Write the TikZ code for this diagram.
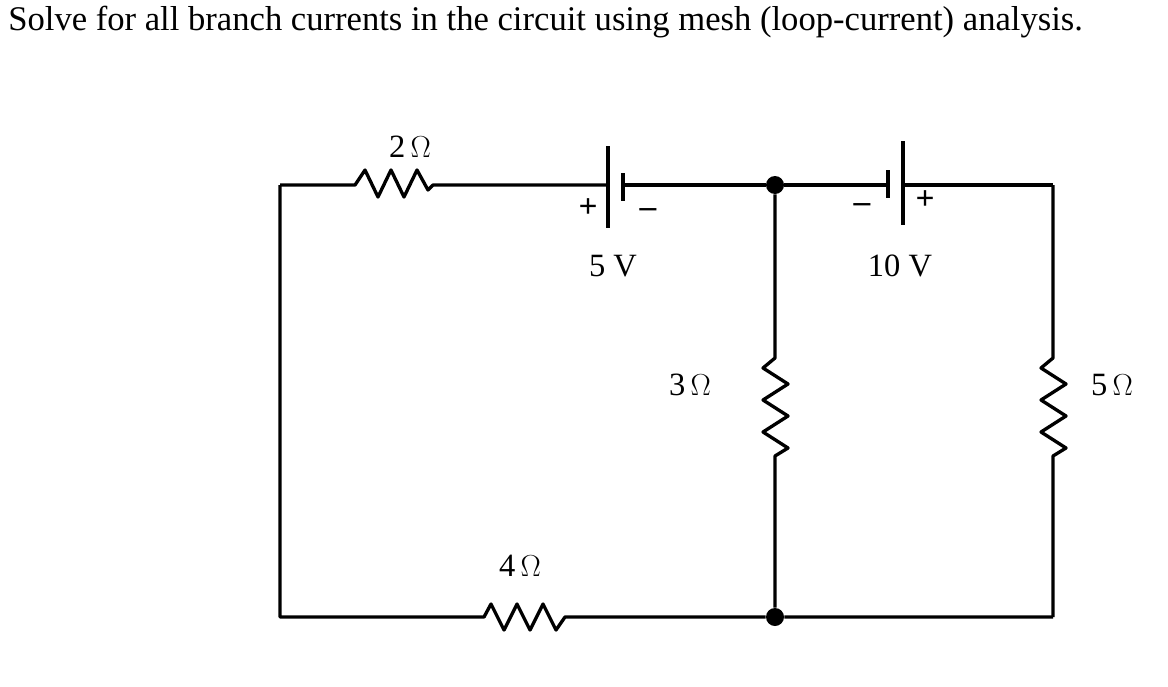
\documentclass[tikz,border=0pt]{standalone}
\usepackage{fontspec}
\setmainfont{Liberation Serif}
\usetikzlibrary{positioning, calc}

\begin{document}
\begin{tikzpicture}[
        x=0.02cm, y=-0.02cm,
        wire/.style={line width=1.9pt, line join=round},
        plate/.style={line width=2.2pt},
        lbl/.style={font=\fontsize{18.5}{20}\selectfont, inner sep=0pt},
        sgn/.style={font=\bfseries\fontsize{19}{19}\selectfont, inner sep=0pt},
        junction/.style={circle, fill=black, inner sep=0pt, minimum size=0.36cm}
    ]
        \useasboundingbox (0,0) rectangle (1168,686);
        % title
        \node[anchor=west, inner sep=0pt, font=\fontsize{19.7}{22}\selectfont] (title) at (8,22)
            {Solve for all branch currents in the circuit using mesh (loop-current) analysis.};

        % corners and junctions
        \coordinate (tl) at (280,185);
        \coordinate (tr) at (1053,185);
        \coordinate (bl) at (280,617);
        \coordinate (br) at (1053,617);
        \node[junction] (top) at (775,185) {};
        \node[junction] (bot) at (775,617) {};

        % top wire: 2 ohm and 5 V
        \draw[wire] (tl) -- (355,185) -- (365,170) -- (378,197) -- (391,170) -- (404,197)
            -- (417,170) -- (428,190) -- (433,185) -- (608,185);
        \draw[plate] (608,146) -- (608,228);
        \draw[plate] (623,173) -- (623,201);
        \draw[wire] (623,185) -- (top);
        % top wire: 10 V
        \draw[wire] (top) -- (888,185);
        \draw[plate] (888,170) -- (888,198);
        \draw[plate] (903,141) -- (903,225);
        \draw[wire] (903,185) -- (tr);

        % right branch: 5 ohm
        \draw[wire] (tr) -- (1053,358) -- (1041,368) -- (1066,384) -- (1041,400) -- (1066,416)
            -- (1041,432) -- (1066,448) -- (1053,456) -- (br);
        % middle branch: 3 ohm
        \draw[wire] (top) -- (775,358) -- (763,368) -- (788,384) -- (763,400) -- (788,416)
            -- (763,432) -- (788,448) -- (775,456) -- (bot);
        % bottom wire: 4 ohm
        \draw[wire] (br) -- (bot) -- (565,617) -- (556,630) -- (543,604) -- (530,630) -- (517,604)
            -- (504,630) -- (491,604) -- (484,617) -- (bl) -- (tl);

        % labels
        \node[lbl] (r2) at (410,147) {2\,$\Omega$};
        \node[lbl] (r4) at (520,566) {4\,$\Omega$};
        \node[lbl] (r3) at (690,385) {3\,$\Omega$};
        \node[lbl] (r5) at (1112,385) {5\,$\Omega$};
        \node[lbl] (v5) at (613,266) {5 V};
        \node[lbl] (v10) at (900,266) {10 V};
        \node[sgn] (p5) at (588,208) {+};
        \node[sgn] (m5) at (648,213) {--};
        \node[sgn] (m10) at (862,208) {--};
        \node[sgn] (p10) at (925,200) {+};
    \end{tikzpicture}
\end{document}
